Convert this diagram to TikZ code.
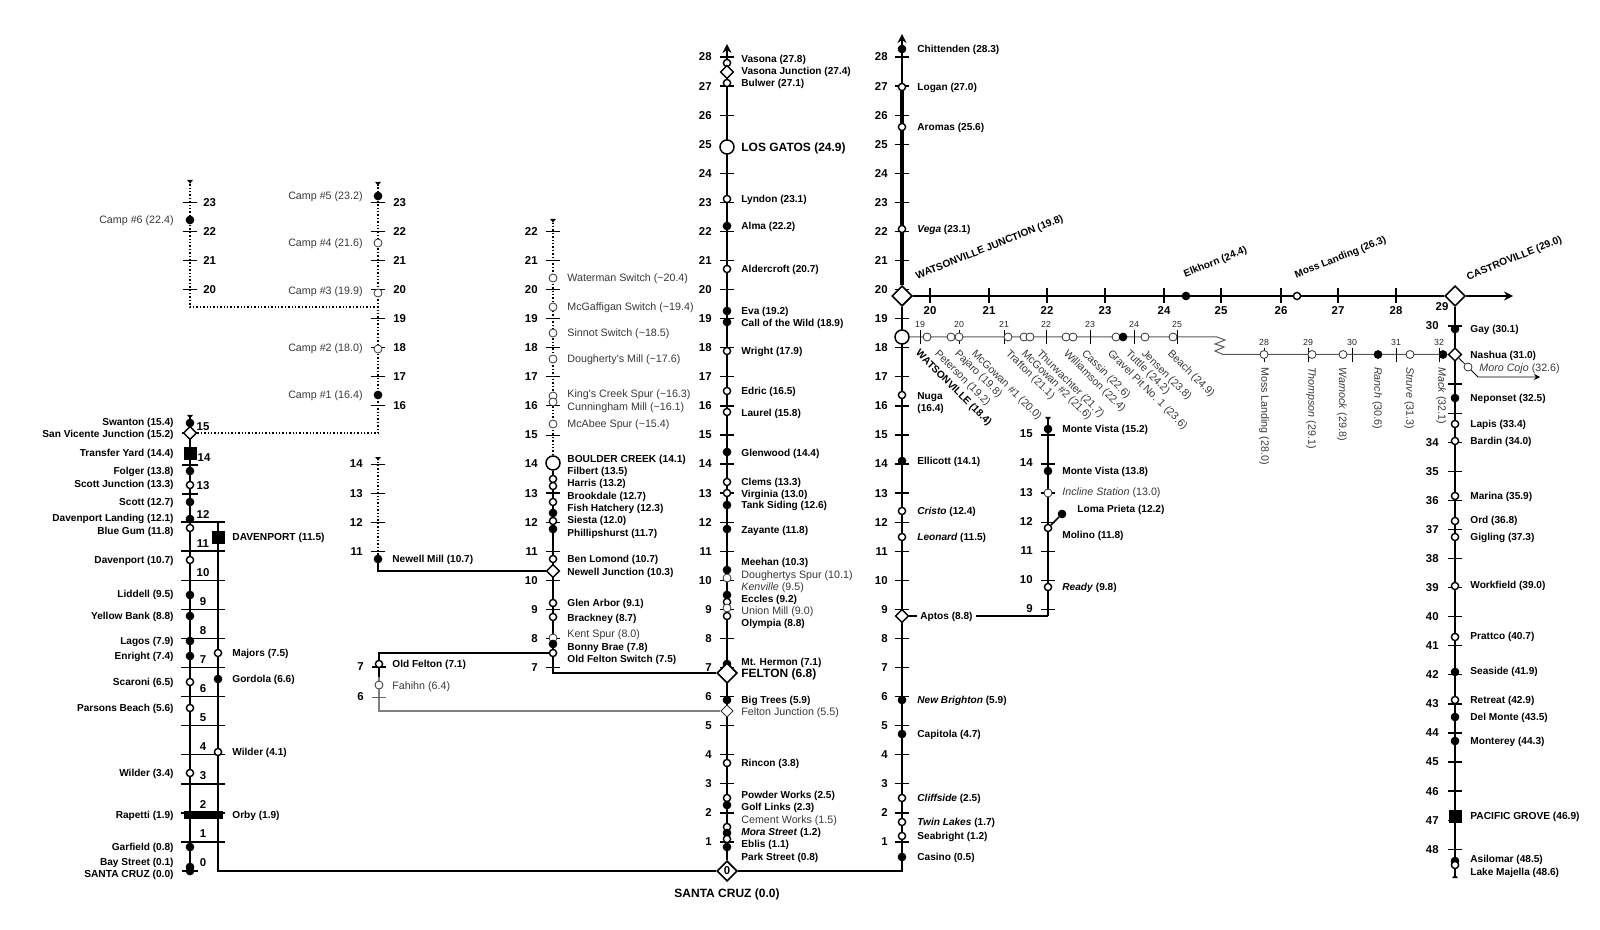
\documentclass[tikz,border=0pt]{standalone}
\usepackage{fontspec}
\usetikzlibrary{arrows.meta,shapes.geometric,backgrounds}
\newfontfamily\litefont{Liberation Sans}
\newcommand{\labfont}{\litefont\bfseries}
\newcommand{\lite}{\litefont\mdseries\fontsize{5.35}{6.4}\selectfont\color{black!78}}
\newcommand{\caplab}{\fontsize{5.1}{6}\selectfont}
\newcommand{\biglab}{\fontsize{6}{7}\selectfont}
\tikzset{
	opn/.style={circle, draw, fill=white, line width=0.7pt, minimum size=3.6pt, inner sep=0},
	fil/.style={circle, draw, fill=black, line width=0.3pt, minimum size=4pt, inner sep=0},
	thn/.style={circle, draw=black!80, fill=white, line width=0.4pt, minimum size=4pt, inner sep=0},
	bigc/.style={circle, draw, fill=white, line width=0.75pt, minimum size=7pt, inner sep=0},
	dia/.style={diamond, draw, fill=white, line width=0.7pt, minimum size=6.6pt, inner sep=0},
	thd/.style={diamond, draw=black!80, fill=white, line width=0.4pt, minimum size=6.2pt, inner sep=0},
	bigd/.style={diamond, draw, fill=white, line width=0.8pt, minimum size=10.2pt, inner sep=0},
	sqr/.style={rectangle, fill=black, minimum size=6.5pt, inner sep=0},
	lab/.style={font=\labfont\fontsize{5.05}{6.4}\selectfont, inner sep=0, yshift=-0.4pt},
	num/.style={font=\labfont\fontsize{5.7}{6.8}\selectfont, inner sep=0},
	sml/.style={font=\litefont\fontsize{4.4}{5}\selectfont, text=black!85, inner sep=0},
	ln/.style={line width=0.85pt},
	grl/.style={line width=0.8pt, draw=black!50},
	thl/.style={line width=0.5pt, draw=black!65},
	dotln/.style={line width=0.55pt, dash pattern=on 0.7pt off 1pt},
	tk/.style={line width=0.65pt},
	tkt/.style={line width=0.4pt},
	tipup/.style={-{Stealth[length=4.5pt,width=4.5pt]}},
	tipbar/.style={-{Latex[reversed,length=2pt,width=3.2pt]}},
}
\begin{document}
\begin{tikzpicture}[x=0.5pt,y=-0.5pt]
	\useasboundingbox (0,0) rectangle (1600,930);

	% free ends and corners
	\coordinate (atop) at (727,44);
	\coordinate (btop) at (902,34);
	\coordinate (bcorner) at (902,871);
	\coordinate (coasttop) at (190,415);
	\coordinate (coastbot) at (190,875);
	\coordinate (brtop) at (218,523);
	\coordinate (brbot) at (218,871);
	\coordinate (camptop) at (378,182);
	\coordinate (campcorner) at (378,433);
	\coordinate (sixtop) at (190,180);
	\coordinate (sixcorner) at (190,307);
	\coordinate (sixjoin) at (378,307);
	\coordinate (newtop) at (378,457);
	\coordinate (newcorner) at (378,571);
	\coordinate (oldcorner) at (379,653);
	\coordinate (oldmid) at (379,677);
	\coordinate (fahcorner) at (379,711);
	\coordinate (bctop) at (553,219);
	\coordinate (bccorner) at (553,673);
	\coordinate (mvtop) at (1048,417);
	\coordinate (mvcorner) at (1048,616);
	\coordinate (eastend) at (1513,296);
	\coordinate (pgbot) at (1455,878);
	\coordinate (moroa) at (1478,377);
	\coordinate (morob) at (1540,377);

	% mile ticks
	\foreach \m in {1,...,28} {
		\pgfmathsetmacro\yy{871-29.07*\m}
		\draw[tk] (720,\yy) -- (734,\yy);
		\node[num, anchor=east] (am\m) at (712,\yy) {\m};
		\draw[tk] (895,\yy) -- (909,\yy);
		\node[num, anchor=east] (bm\m) at (888,\yy) {\m};
	}
	\foreach \m in {1,...,12} {
		\pgfmathsetmacro\yy{871-29.07*\m}
		\draw[line width=0.75pt] (181,\yy) -- (225,\yy);
	}
	\foreach \m in {0,...,13} {
		\pgfmathsetmacro\yy{863-29.07*\m}
		\node[num] (cm\m) at (203,\yy) {\m};
	}
	\draw[tk] (182,871) -- (198,871);
	\draw[tk] (182,494) -- (198,494);
	\draw[tk] (182,465) -- (198,465);
	\draw[tk] (182,433) -- (198,433);
	\node[num] (cm14) at (204,458) {14};
	\node[num] (cm15) at (203,427) {15};
	\foreach \m in {20,...,23} {
		\pgfmathsetmacro\yy{871-29.07*\m}
		\draw[tkt] (183,\yy) -- (197,\yy);
		\node[num, anchor=west] (lm\m) at (203,\yy) {\m};
	}
	\foreach \m in {16,...,23} {
		\pgfmathsetmacro\yy{871-29.07*\m}
		\draw[tkt] (371,\yy) -- (385,\yy);
		\node[num, anchor=west] (km\m) at (393,\yy) {\m};
	}
	\foreach \m in {11,...,14} {
		\pgfmathsetmacro\yy{871-29.07*\m}
		\draw[tkt] (371,\yy) -- (385,\yy);
		\node[num, anchor=east] (im\m) at (363,\yy) {\m};
	}
	\draw[tk] (372,667) -- (386,667);
	\draw[tkt, draw=black!60] (372,697) -- (386,697);
	\node[num, anchor=east] (jm7) at (364,667) {7};
	\node[num, anchor=east] (jm6) at (364,697) {6};
	\foreach \m in {15,...,22} {
		\pgfmathsetmacro\yy{871-29.07*\m}
		\draw[tkt] (546,\yy) -- (560,\yy);
		\node[num, anchor=east] (hm\m) at (538,\yy) {\m};
	}
	\foreach \m in {7,...,14} {
		\pgfmathsetmacro\yy{871-29.07*\m}
		\draw[tk] (546,\yy) -- (560,\yy);
		\node[num, anchor=east] (hm\m) at (538,\yy) {\m};
	}
	\foreach \m in {9,...,15} {
		\pgfmathsetmacro\yy{871-29.07*\m}
		\draw[tk] (1041,\yy) -- (1055,\yy);
		\node[num, anchor=east] (dm\m) at (1033,\yy-1) {\m};
	}
	\foreach \m in {30,32,33,34,...,48} {
		\pgfmathsetmacro\yy{326+29.07*(\m-30)}
		\draw[tk] (1448,\yy) -- (1462,\yy);
	}
	\foreach \m in {30,34,35,...,48} {
		\pgfmathsetmacro\yy{326+29.07*(\m-30)}
		\node[num, anchor=east] (gm\m) at (1439,\yy) {\m};
	}
	\foreach \m/\x in {20/930,21/989,22/1047,23/1105,24/1164,25/1221,26/1281,27/1338,28/1396} {
		\draw[tk] (\x,288) -- (\x,303);
		\node[num] (em\m) at (\x,311) {\m};
	}
	\node[num] (em29) at (1442,307) {29};
	\foreach \m/\x in {19/920,20/959,21/1004,22/1046,23/1090,24/1134,25/1177} {
		\draw[tkt] (\x,330) -- (\x,344);
		\node[sml] (fm\m) at (\x,324) {\m};
	}
	\foreach \m/\x in {28/1264,29/1308,30/1352,31/1396,32/1439} {
		\draw[tkt] (\x,348) -- (\x,362);
		\node[sml] (fm\m) at (\x,342) {\m};
	}

	% Los Gatos line
	\foreach \id/\y/\k/\ly/\txt in {
		vasona/63/opn/59/Vasona (27.8),
		vasonaj/72/dia/71/Vasona Junction (27.4),
		bulwer/83/opn/83/Bulwer (27.1),
		losgatos/147/bigc/148/\biglab LOS GATOS (24.9),
		lyndon/199/opn/199/Lyndon (23.1),
		alma/226/fil/226/Alma (22.2),
		aldercroft/269/opn/269/Aldercroft (20.7),
		eva/311/fil/311/Eva (19.2),
		callwild/322/fil/323/Call of the Wild (18.9),
		wright/351/opn/351/Wright (17.9),
		edric/391/opn/391/Edric (16.5),
		laurel/412/opn/413/Laurel (15.8),
		glenwood/452/fil/453/Glenwood (14.4),
		clems/482/opn/482/Clems (13.3),
		virginia/493/opn/494/Virginia (13.0),
		tank/505/fil/505/Tank Siding (12.6),
		zayante/529/fil/530/Zayante (11.8),
		meehan/570/fil/562/Meehan (10.3),
		doughertys/578/thn/575/{\lite Doughertys Spur (10.1)},
		kenville/595/fil/587/{\lite\textit{Kenville} (9.5)},
		eccles/602/opn/599/Eccles (9.2),
		unionmill/608/thn/611/{\lite Union Mill (9.0)},
		olympia/616/opn/623/Olympia (8.8),
		mthermon/664/fil/662/Mt. Hermon (7.1),
		felton/673/bigd/674/\biglab FELTON (6.8),
		bigtrees/700/fil/700/Big Trees (5.9),
		feltonj/711/thd/712/{\lite Felton Junction (5.5)},
		rincon/763/opn/763/Rincon (3.8),
		powder/798/opn/795/Powder Works (2.5),
		golf/805/fil/807/Golf Links (2.3),
		cement/827/opn/820/{\lite Cement Works (1.5)},
		mora/833/fil/832/\textit{Mora Street} (1.2),
		eblis/839/opn/844/Eblis (1.1),
		park/847/fil/857/Park Street (0.8)} {
		\node[\k] (\id) at (727,\y) {};
		\node[lab, anchor=west] (\id-t) at (741,\ly) {\txt};
	}
	\node[bigd] (scd) at (727,871) {\labfont\fontsize{5.7}{6.8}\selectfont 0};
	\node[lab] (scd-t) at (727,894) {\biglab SANTA CRUZ (0.0)};

	% Watsonville line
	\foreach \id/\y/\k/\txt in {
		chittenden/49/fil/Chittenden (28.3),
		logan/87/opn/Logan (27.0),
		aromas/127/opn/Aromas (25.6),
		vega/229/opn/\textit{Vega} (23.1),
		ellicott/461/fil/Ellicott (14.1),
		cristo/511/opn/\textit{Cristo} (12.4),
		leonard/537/opn/\textit{Leonard} (11.5),
		newbrighton/700/fil/\textit{New Brighton} (5.9),
		capitola/734/fil/Capitola (4.7),
		cliffside/798/opn/\textit{Cliffside} (2.5),
		twinlakes/822/opn/\textit{Twin Lakes} (1.7),
		seabright/836/opn/Seabright (1.2),
		casino/857/fil/Casino (0.5)} {
		\node[\k] (\id) at (902,\y) {};
		\node[lab, anchor=west] (\id-t) at (917,\y) {\txt};
	}
	\node[opn] (nuga) at (902,395) {};
	\node[lab, anchor=west] (nuga-t) at (917,396) {Nuga};
	\node[lab, anchor=west] (nuga-u) at (917,408) {(16.4)};
	\node[dia] (aptos) at (902,616) {};
	\node[lab, anchor=west] (aptos-t) at (920,616) {Aptos (8.8)};
	\node[bigd] (watj) at (902,296) {};
	\node[bigc] (wats) at (902,337) {};
	\node[lab, anchor=west, rotate=21.5] (watj-t) at (916,276) {\caplab WATSONVILLE JUNCTION (19.8)};
	\node[lab, anchor=west, rotate=-45] (wats-t) at (917,351) {\caplab WATSONVILLE (18.4)};

	% Loma Prieta branch
	\foreach \id/\y/\k/\ly/\txt in {
		montevb/429/fil/429/Monte Vista (15.2),
		montev/471/fil/471/Monte Vista (13.8),
		incline/493/thn/492/{\lite\textit{Incline Station} (13.0)},
		molino/528/opn/535/Molino (11.8),
		ready/587/opn/587/\textit{Ready} (9.8)} {
		\node[\k] (\id) at (1048,\y) {};
		\node[lab, anchor=west] (\id-t) at (1062,\ly) {\txt};
	}
	\node[fil] (loma) at (1062,514) {};
	\node[lab, anchor=west] (loma-t) at (1077,509) {Loma Prieta (12.2)};

	% Boulder Creek line
	\foreach \id/\y/\k/\ly/\txt in {
		waterman/278/thn/278/{\lite Waterman Switch (\textasciitilde 20.4)},
		mcgaffigan/307/thn/307/{\lite McGaffigan Switch (\textasciitilde 19.4)},
		sinnot/333/thn/333/{\lite Sinnot Switch (\textasciitilde 18.5)},
		doughmill/359/thn/359/{\lite Dougherty's Mill (\textasciitilde 17.6)},
		kingscreek/396/thn/394/{\lite King's Creek Spur (\textasciitilde 16.3)},
		cunningham/402/thn/407/{\lite Cunningham Mill (\textasciitilde 16.1)},
		mcabee/424/thn/424/{\lite McAbee Spur (\textasciitilde 15.4)},
		boulder/463/bigc/459/{\caplab BOULDER CREEK (14.1)},
		filbert/479/opn/471/Filbert (13.5),
		harris/486/opn/483/Harris (13.2),
		brookdale/502/opn/496/Brookdale (12.7),
		fishhatch/513/fil/508/Fish Hatchery (12.3),
		siesta/521/opn/520/Siesta (12.0),
		phillips/529/fil/533/Phillipshurst (11.7),
		benlomond/559/opn/559/Ben Lomond (10.7),
		newellj/571/dia/572/Newell Junction (10.3),
		glenarbor/603/opn/603/Glen Arbor (9.1),
		brackney/617/opn/618/Brackney (8.7),
		kentspur/638/thn/634/{\lite Kent Spur (8.0)},
		bonnybrae/644/fil/647/Bonny Brae (7.8),
		oldfsw/653/opn/659/Old Felton Switch (7.5)} {
		\node[\k] (\id) at (553,\y) {};
		\node[lab, anchor=west] (\id-t) at (567,\ly) {\txt};
	}

	% short branches by Felton
	\node[fil] (newellm) at (378,559) {};
	\node[lab, anchor=west] (newellm-t) at (392,559) {Newell Mill (10.7)};
	\node[opn] (oldf) at (379,664) {};
	\node[lab, anchor=west] (oldf-t) at (392,664) {Old Felton (7.1)};
	\node[thn] (fahihn) at (379,685) {};
	\node[lab, anchor=west] (fahihn-t) at (392,686) {\lite Fahihn (6.4)};

	% camps
	\foreach \id/\y/\k/\ly/\txt in {
		campe/196/fil/196/Camp \#5 (23.2),
		campd/243/thn/243/Camp \#4 (21.6),
		campc/293/thn/291/Camp \#3 (19.9),
		campb/349/thn/348/Camp \#2 (18.0),
		campa/395/fil/395/Camp \#1 (16.4)} {
		\node[\k] (\id) at (378,\y) {};
		\node[lab, anchor=east] (\id-t) at (363,\ly) {\lite\txt};
	}
	\node[fil] (campf) at (190,220) {};
	\node[lab, anchor=east] (campf-t) at (174,220) {\lite Camp \#6 (22.4)};

	% coast line
	\foreach \id/\y/\k/\ly/\txt in {
		swanton/423/fil/422/Swanton (15.4),
		sanvic/433/dia/434/San Vicente Junction (15.2),
		transfer/453/sqr/453/Transfer Yard (14.4),
		folger/471/fil/471/Folger (13.8),
		scottj/485/opn/484/Scott Junction (13.3),
		scott/502/fil/502/Scott (12.7),
		davland/519/fil/518/Davenport Landing (12.1),
		bluegum/528/opn/531/Blue Gum (11.8),
		daven/560/opn/560/Davenport (10.7),
		liddell/595/fil/594/Liddell (9.5),
		yellowb/616/fil/616/Yellow Bank (8.8),
		lagos/641/fil/641/Lagos (7.9),
		enright/656/fil/656/Enright (7.4),
		scaroni/682/opn/682/Scaroni (6.5),
		parsons/708/opn/708/Parsons Beach (5.6),
		wilder/773/opn/773/Wilder (3.4),
		garfield/847/fil/847/Garfield (0.8),
		baystreet/867/fil/862/Bay Street (0.1),
		scoast/871/fil/874/\caplab SANTA CRUZ (0.0)} {
		\node[\k] (\id) at (190,\y) {};
		\node[lab, anchor=east] (\id-t) at (174,\ly) {\txt};
	}
	\foreach \id/\y/\k/\txt in {
		davenb/537/sqr/\caplab DAVENPORT (11.5),
		majors/653/opn/Majors (7.5),
		gordola/679/fil/Gordola (6.6),
		wilderb/752/opn/Wilder (4.1)} {
		\node[\k] (\id) at (218,\y) {};
		\node[lab, anchor=west] (\id-t) at (232,\y) {\txt};
	}
	\node[sqr, minimum width=19.5pt, minimum height=4pt] (rapetti) at (203.5,815) {};
	\node[lab, anchor=east] (rapetti-t) at (174,815) {Rapetti (1.9)};
	\node[lab, anchor=west] (orby-t) at (232,815) {Orby (1.9)};

	% east line
	\node[fil] (elkhorn) at (1186,296) {};
	\node[opn] (mossl) at (1297,296) {};
	\node[bigd] (cast) at (1455,296) {};
	\node[lab, anchor=west, rotate=21.5] (elkhorn-t) at (1184,274) {Elkhorn (24.4)};
	\node[lab, anchor=west, rotate=21.5] (mossl-t) at (1295,275) {Moss Landing (26.3)};
	\node[lab, anchor=west, rotate=22] (cast-t) at (1467,277) {\caplab CASTROVILLE (29.0)};

	% coast road branch, leaning labels
	\foreach \id/\x/\k/\lx/\txt in {
		peterson/927/thn/936/Peterson (19.2),
		pajaro/951/thn/956/Pajaro (19.8),
		mcgowana/959/thn/973/McGowan \#1 (20.0),
		trafton/1008/thn/1007/Trafton (21.1),
		mcgowanb/1024/thn/1023/McGowan \#2 (21.6),
		thurw/1030/thn/1038/Thurwachter (21.7),
		williamson/1066/thn/1065/Williamson (22.4),
		cassin/1073/thn/1083/Cassin (22.6),
		gravelpit/1116/thn/1109/Gravel Pit No. 1 (23.6),
		tuttle/1123/fil/1127/Tuttle (24.2),
		jensen/1145/thn/1143/Jensen (23.8),
		beach/1173/thn/1169/Beach (24.9)} {
		\node[\k] (\id) at (\x,337) {};
		\node[lab, anchor=west, rotate=-45] (\id-t) at (\lx,351) {\lite\txt};
	}
	\foreach \id/\x/\k/\lx/\txt in {
		mosslb/1264/thn/1264/Moss Landing (28.0),
		thompson/1312/thn/1311/\textit{Thompson} (29.1),
		warnock/1343/thn/1342/\textit{Warnock} (29.8),
		ranch/1378/fil/1377/\textit{Ranch} (30.6),
		struve/1410/thn/1409/\textit{Struve} (31.3),
		mack/1443/fil/1441/\textit{Mack} (32.1)} {
		\node[\k] (\id) at (\x,354.5) {};
		\node[lab, anchor=west, rotate=-90] (\id-t) at (\lx,366) {\lite\txt};
	}

	% Pacific Grove line
	\foreach \id/\y/\k/\ly/\txt in {
		gay/329/fil/329/Gay (30.1),
		nashua/354.5/dia/355/Nashua (31.0),
		neponset/398/fil/398/Neponset (32.5),
		lapis/424/opn/424/Lapis (33.4),
		bardin/441/opn/441/Bardin (34.0),
		marina/496/opn/496/Marina (35.9),
		ord/521/opn/520/Ord (36.8),
		gigling/537/opn/537/Gigling (37.3),
		workfield/586/opn/585/Workfield (39.0),
		prattco/637/opn/636/Prattco (40.7),
		seaside/672/fil/671/Seaside (41.9),
		retreat/700/opn/700/Retreat (42.9),
		delmonte/717/fil/717/Del Monte (43.5),
		monterey/741/fil/741/Monterey (44.3),
		pacgrove/816/sqr/816/\caplab PACIFIC GROVE (46.9),
		asilomar/861/fil/859/Asilomar (48.5),
		lakemaj/865/opn/872/Lake Majella (48.6)} {
		\node[\k] (\id) at (1455,\y) {};
		\node[lab, anchor=west] (\id-t) at (1470,\ly) {\txt};
	}
	\node[thn] (morocojo) at (1468,367) {};
	\node[lab, anchor=west] (morocojo-t) at (1479,368) {\lite\textit{Moro Cojo} (32.6)};

	% connectors
	\begin{pgfonlayer}{background}
		\draw[ln, tipup] (scd) -- (atop);
		\draw[ln] (brtop) -- (brbot) -- (scd) -- (bcorner) -- (watj);
		\draw[line width=2pt] (watj) -- (logan);
		\draw[ln, tipup] (logan) -- (btop);
		\draw[ln, tipbar] (coastbot) -- (coasttop);
		\draw[dotln, tipbar] (sanvic) -- (campcorner) -- (camptop);
		\draw[dotln, tipbar] (sixjoin) -- (sixcorner) -- (sixtop);
		\draw[dotln, tipbar] (newellm) -- (newtop);
		\draw[ln] (newellm) -- (newcorner) -- (newellj);
		\draw[ln] (oldfsw) -- (oldcorner) -- (oldf) -- (oldmid);
		\draw[grl] (oldmid) -- (fahihn) -- (fahcorner) -- (feltonj);
		\draw[dotln, tipbar] (boulder) -- (bctop);
		\draw[ln] (boulder) -- (bccorner) -- (felton);
		\draw[ln, tipbar] (mvcorner) -- (mvtop);
		\draw[ln, shorten >=1.5pt] (aptos) -- (aptos-t.west |- mvcorner);
		\draw[ln, shorten <=1.5pt] (aptos-t.east |- mvcorner) -- (mvcorner);
		\draw[ln] (molino) -- (loma);
		\draw[ln, tipup] (watj) -- (cast) -- (eastend);
		\draw[ln, tipbar] (cast) -- (pgbot);
		\draw[thl] (wats) -- (1217,337) -- (1225,340) -- (1215,344) -- (1224,347) -- (1215,351) -- (1223,354.5) -- (nashua);
		\draw[tkt, -{Stealth[length=3pt,width=3pt]}] (nashua) -- (morocojo) -- (moroa) -- (morob);
	\end{pgfonlayer}
\end{tikzpicture}
\end{document}
